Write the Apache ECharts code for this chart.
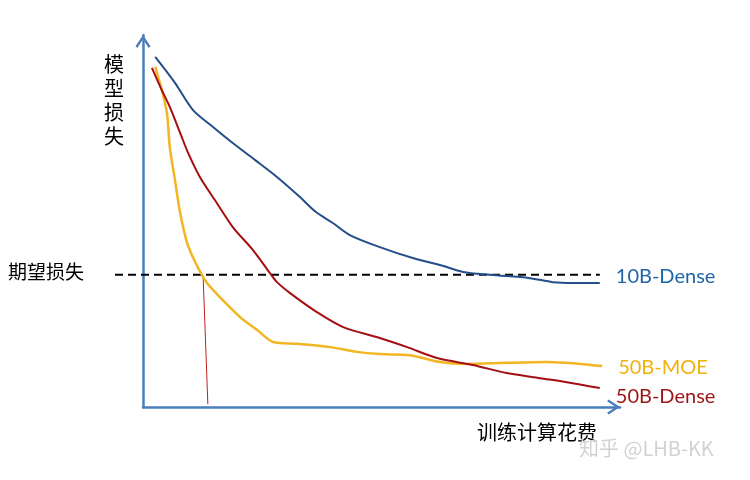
<!DOCTYPE html>
<html><head><meta charset="utf-8">
<script src="https://cdn.jsdelivr.net/npm/echarts@6/dist/echarts.min.js"></script>
<style>html,body{margin:0;padding:0;background:#fff}#c{width:750px;height:480px}</style>
</head><body><div id="c"></div>
<script>
// x: training compute (0..101.5), y: model loss (0..101.9)
const dense10B = [[2.6,95.9],[6.8,88.8],[10.6,81.4],[14.9,76.7],[19.1,72.3],[23.8,67.7],[28.5,63.0],[33.4,57.5],[36.8,53.4],[40.4,50.4],[44.0,47.1],[50.4,43.8],[57.4,40.8],[63.2,38.9],[68.1,37.0],[73.8,36.2],[82.3,35.3],[87.2,34.2],[91.9,34.0],[97.2,34.0]];
const dense50B = [[1.9,92.9],[4.0,86.8],[5.7,82.2],[7.9,75.1],[9.6,69.6],[12.1,63.0],[15.7,55.9],[19.1,49.3],[23.4,43.0],[27.0,36.7],[28.5,34.2],[31.3,31.2],[37.0,26.0],[42.6,21.9],[50.4,18.9],[56.2,16.4],[62.6,13.4],[70.2,11.5],[77.4,9.3],[84.5,7.9],[90.2,6.8],[97.2,5.2]];
const moe50B = [[2.6,93.2],[4.0,86.8],[5.1,80.5],[5.7,71.2],[6.8,62.2],[7.9,53.2],[9.4,44.9],[11.1,39.7],[12.8,35.6],[14.3,32.9],[20.6,24.7],[24.3,21.1],[27.7,17.8],[32.8,17.3],[39.8,16.4],[45.5,15.1],[50.4,14.5],[56.8,14.2],[63.2,12.3],[68.9,11.8],[77.4,12.1],[86.0,12.3],[93.0,11.8],[97.7,11.2]];
const targetLoss = [[-6.0,36.2],[97.2,36.2]];
const moeReach = [[12.8,35.6],[13.8,0.8]];
const names = ['10B-Dense','50B-MOE','50B-Dense'];
const axisName = {y:'模型损失', x:'训练计算花费', target:'期望损失'};
const watermark = '知乎 @LHB-KK';

const chart = echarts.init(document.getElementById('c'));
const axisColor = '#4a7ebb';
const chevron = 'path://M7.5,0 L15,11.3 L13.2,13 L7.5,4.2 L1.8,13 L0,11.3 Z';
const axisLine = {show:true, symbol:['none', chevron], symbolSize:[15,13], symbolOffset:[0,-6.5], lineStyle:{color:axisColor, width:2.5}};
const latin = 'Lato, "Open Sans", sans-serif';
const cjk = '"Noto Sans CJK SC", sans-serif';
const hidden = {show:false};
function curve(name, data, color, width, labelColor, offset){
  return {type:'line', name, data, smooth:0.3, symbol:'none', clip:false,
    lineStyle:{color, width}, z:3,
    endLabel:{show:true, formatter:name, color:labelColor, fontFamily:latin, fontSize:20, distance:16, offset}};
}
chart.setOption({
  animation:false,
  grid:[{left:143, right:130, top:35, bottom:73}, {left:115, right:130, top:35, bottom:73}],
  xAxis:[
    {gridIndex:0, type:'value', min:0, max:101.5, axisLine, axisTick:hidden, axisLabel:hidden, splitLine:hidden},
    {gridIndex:1, type:'value', min:-6, max:101.5, show:false}
  ],
  yAxis:[
    {gridIndex:0, type:'value', min:0, max:101.9, axisLine, axisTick:hidden, axisLabel:hidden, splitLine:hidden},
    {gridIndex:1, type:'value', min:0, max:101.9, show:false}
  ],
  series:[
    {type:'line', xAxisIndex:1, yAxisIndex:1, data:targetLoss, symbol:'none', clip:false, z:2,
      lineStyle:{color:'#000', width:2, type:[8,5]}},
    {type:'line', data:moeReach, symbol:'none', clip:false, z:2,
      lineStyle:{color:'#c0201c', width:1}},
    curve(names[0], dense10B, '#234e8a', 2, '#1f66a8', [0,-6]),
    curve(names[1], moe50B, '#f2b622', 2.5, '#efb20a', [0,1]),
    curve(names[2], dense50B, '#a30f12', 2, '#9e1518', [0,9])
  ],
  graphic:[
    {type:'text', left:104, top:52, style:{text:axisName.y.split('').join('\n'), font:'20px '+cjk, lineHeight:24, fill:'#000'}},
    {type:'text', left:8, top:262, style:{text:axisName.target, font:'19px '+cjk, fill:'#000'}},
    {type:'text', left:477, top:422, style:{text:axisName.x, font:'20px '+cjk, fill:'#000'}},
    {type:'text', left:579, top:438, style:{text:watermark, font:'20px '+cjk, fill:'#d2d2d2'}}
  ]
});
</script></body></html>
